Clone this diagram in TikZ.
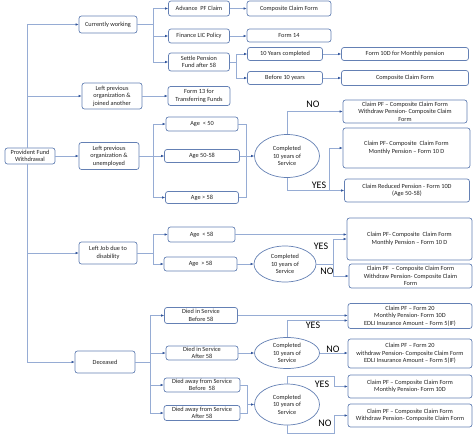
\documentclass[tikz,border=0pt]{standalone}
\usepackage{fontspec}
\setmainfont{Carlito}
\usetikzlibrary{shapes.geometric,arrows.meta,calc}
\definecolor{boxc}{RGB}{100,128,180}
\definecolor{linec}{RGB}{150,172,212}
\definecolor{tipc}{RGB}{50,85,155}
\definecolor{txtc}{RGB}{35,35,35}
\begin{document}
\begin{tikzpicture}[x=1pt,y=-1pt,
  every node/.style={text=txtc},
  sz/.style 2 args={minimum width=#1pt, minimum height=#2pt},
  bx/.style={draw=boxc, line width=0.7pt, rounded corners=2.5pt, fill=white, align=center, inner sep=0.5pt, font=\fontsize{6.3}{7.6}\selectfont},
  el/.style={ellipse, draw=boxc, line width=0.7pt, fill=white, align=center, inner sep=0pt, font=\fontsize{6.3}{7.6}\selectfont},
  ln/.style={draw=linec, line width=0.6pt},
  arr/.style={ln, -{Latex[length=3pt,width=2.6pt,color=tipc]}},
  lbl/.style={font=\fontsize{10}{12}\selectfont, text=black, inner sep=0pt}
]
\useasboundingbox (0,0) rectangle (474,434);
% level 0 and 1
\node[bx,sz={50}{16}] (root) at (30,156) {Provident Fund\\Withdrawal};
\node[bx,sz={58}{17}] (cw) at (108,24.5) {Currently working};
\node[bx,sz={60}{26}] (lj) at (112,96) {Left previous\\organization \&\\joined another};
\node[bx,sz={60}{27}] (lu) at (109,156) {Left previous\\organization \&\\unemployed};
\node[bx,sz={58}{22}] (ld) at (108,253) {Left Job due to\\disability};
\node[bx,sz={60}{22}] (dc) at (105,362) {Deceased};
% currently working
\node[bx,sz={61}{15}] (adv) at (199,8.5) {Advance\ \ PF Claim};
\node[bx,sz={61}{14}] (lic) at (199,36) {Finance LIC Policy};
\node[bx,sz={61}{18}] (sp) at (199,62) {Settle Pension\\Fund after 58};
\node[bx,sz={84}{15}] (cc1) at (289,8.5) {Composite Claim Form};
\node[bx,sz={84}{13}] (f14) at (289,35.5) {Form 14};
\node[bx,sz={75}{13}] (ty) at (285,54) {10 Years completed};
\node[bx,sz={75}{13}] (b10) at (285,78) {Before 10 years};
\node[bx,sz={127}{13}] (f10d) at (405,54) {Form 10D for Monthly pension};
\node[bx,sz={127}{15}] (cc2) at (405,78) {Composite Claim Form};
\node[bx,sz={62}{19}] (f13) at (199,96) {Form 13 for\\Transferring Funds};
% unemployed
\node[bx,sz={72}{14}] (a50) at (202,124) {Age\ \ < 50};
\node[bx,sz={75}{13}] (a5058) at (202,156) {Age 50-58};
\node[bx,sz={73}{12}] (a58) at (202,197.5) {Age > 58};
\node[el,sz={65}{43}] (e1) at (287,156) {Completed\\10 years of\\Service};
\node[bx,sz={124}{23}] (n1) at (405,111.5) {Claim PF -- Composite Claim Form\\Withdraw Pension- Composite Claim\\Form};
\node[bx,sz={127}{40}] (y1) at (406.5,148) {Claim PF- Composite\ \ Claim Form\\Monthly Pension -- Form 10 D};
\node[bx,sz={125}{23}] (r1) at (407,190.5) {Claim Reduced Pension - Form 10D\\(Age 50-58)};
% disability
\node[bx,sz={67}{15}] (d58) at (201.5,234.5) {Age\ \ < 58};
\node[bx,sz={73}{14}] (dg58) at (200.5,264) {Age\ \ > 58};
\node[el,sz={62}{36}] (e2) at (285,264) {Completed\\10 years of\\Service};
\node[bx,sz={125}{42}] (y2) at (409.5,239) {Claim PF- Composite\ \ Claim Form\\Monthly Pension -- Form 10 D};
\node[bx,sz={123}{24}] (n2) at (410.5,276) {Claim PF\ \ -- Composite Claim Form\\Withdraw Pension- Composite Claim\\Form};
% deceased
\node[bx,sz={73}{16}] (ds1) at (201,315.5) {Died in Service\\Before 58};
\node[bx,sz={72}{14}] (ds2) at (202,353) {Died in Service\\After 58};
\node[bx,sz={76}{14}] (da1) at (202,385) {Died away from Service\\Before\ \ 58};
\node[bx,sz={76}{15}] (da2) at (202,413) {Died away from Service\\After 58};
\node[el,sz={65}{31}] (e3) at (287,353) {Completed\\10 years of\\Service};
\node[el,sz={65}{41}] (e4) at (287,404.5) {Completed\\10 years of\\Service};
\node[bx,sz={124}{25}] (o1) at (410,316) {Claim PF -- Form 20\\Monthly Pension- Form 10D\\EDLI Insurance Amount -- Form 5(IF)};
\node[bx,sz={124}{29}] (o2) at (410,353.5) {Claim PF -- Form 20\\withdraw Pension- Composite Claim Form\\EDLI Insurance Amount -- Form 5(IF)};
\node[bx,sz={124}{23}] (o3) at (410,386.5) {Claim PF -- Composite Claim Form\\Monthly Pension- Form 10D};
\node[bx,sz={124}{23}] (o4) at (410,415.5) {Claim PF -- Composite Claim Form\\Withdraw Pension- Composite Claim Form};
% labels
\node[lbl] (no1) at (313,104) {NO};
\node[lbl] (yes1) at (319,185) {YES};
\node[lbl] (yes2) at (321,246) {YES};
\node[lbl] (no2) at (327,271) {NO};
\node[lbl] (yes3) at (313,325) {YES};
\node[lbl] (no3) at (333,349) {NO};
\node[lbl] (yes4) at (322,384) {YES};
\node[lbl] (no4) at (325,423) {NO};
% junctions
\coordinate (tn) at ([xshift=-3pt]root.north);
\coordinate (ts) at ([xshift=-3pt]root.south);
\coordinate (jcw) at ($(cw.east)+(16,0)$);
\coordinate (jsp) at ($(sp.east)+(6.5,0)$);
\coordinate (jlu) at ($(lu.east)+(14,0)$);
\coordinate (je1) at ($(e1.west)+(-7.5,0)$);
\coordinate (jy1) at ($(r1.west)+(-15,0)$);
\coordinate (jld) at ($(ld.east)+(16,0)$);
\coordinate (je2) at ($(e2.east)+(17,0)$);
\coordinate (jdc) at ($(dc.east)+(15,0)$);
\coordinate (je4) at ($(e4.west)+(-7,0)$);
\coordinate (jy4) at ($(e4.north)+(47,-7)$);
\coordinate (jn4) at ($(e4.south)+(47,8)$);
% trunk
\draw[arr] (tn) |- (cw.west);
\draw[arr] (tn) |- (lj.west);
\draw[arr] (root.east) -- (lu.west);
\draw[arr] (ts) |- (ld.west);
\draw[arr] (ts) |- (dc.west);
% currently working
\draw[ln] (cw.east) -- (jcw);
\draw[arr] (jcw) |- (adv.west);
\draw[arr] (jcw) |- (lic.west);
\draw[arr] (jcw) |- (sp.west);
\draw[arr] (adv.east) -- (adv.east -| cc1.west);
\draw[arr] (lic.east) -- (lic.east -| f14.west);
\draw[ln] (sp.east) -- (jsp);
\draw[arr] (jsp) |- (ty.west);
\draw[arr] (jsp) |- (b10.west);
\draw[arr] (ty.east) -- (ty.east -| f10d.west);
\draw[arr] (b10.east) -- (b10.east -| cc2.west);
\draw[arr] (lj.east) -- (lj.east -| f13.west);
% unemployed
\draw[ln] (lu.east) -- (jlu);
\draw[arr] (jlu) |- (a50.west);
\draw[arr] (jlu) |- (a5058.west);
\draw[arr] (jlu) |- (a58.west);
\draw[ln] (a50.east) -| (je1);
\draw[ln] (a58.east) -| (je1);
\draw[ln] (a5058.east) -- (je1);
\draw[arr] (je1) -- (e1.west);
\draw[arr] (e1.north) |- (n1.west);
\draw[arr] (e1.south) |- (r1.west);
\draw[arr] (jy1) |- (y1.west);
% disability
\draw[ln] (ld.east) -- (jld);
\draw[arr] (jld) |- (d58.west);
\draw[arr] (jld) |- (dg58.west);
\draw[arr] (d58.east) -- (d58.east -| y2.west);
\draw[arr] (dg58.east) -- (dg58.east -| e2.west);
\draw[ln] (e2.east) -- (je2);
\draw[arr] (je2) |- (y2.west);
\draw[arr] (je2) |- (n2.west);
% deceased
\draw[ln] (dc.east) -- (jdc);
\draw[arr] (jdc) |- (ds1.west);
\draw[arr] (jdc) |- (ds2.west);
\draw[arr] (jdc) |- (da1.west);
\draw[arr] (jdc) |- (da2.west);
\draw[arr] (ds1.east) -- (ds1.east -| o1.west);
\draw[arr] (ds2.east) -- (ds2.east -| e3.west);
\draw[arr] (e3.north) |- ([yshift=-4.5pt]o1.west);
\draw[arr] (e3.east) -- (e3.east -| o2.west);
\draw[ln] (da1.east) -| (je4);
\draw[ln] (da2.east) -| (je4);
\draw[arr] (je4) -- (e4.west);
\draw[arr] (e4.north) |- (jy4) |- (o3.west);
\draw[arr] (e4.south) |- (jn4) |- (o4.west);
\end{tikzpicture}
\end{document}
